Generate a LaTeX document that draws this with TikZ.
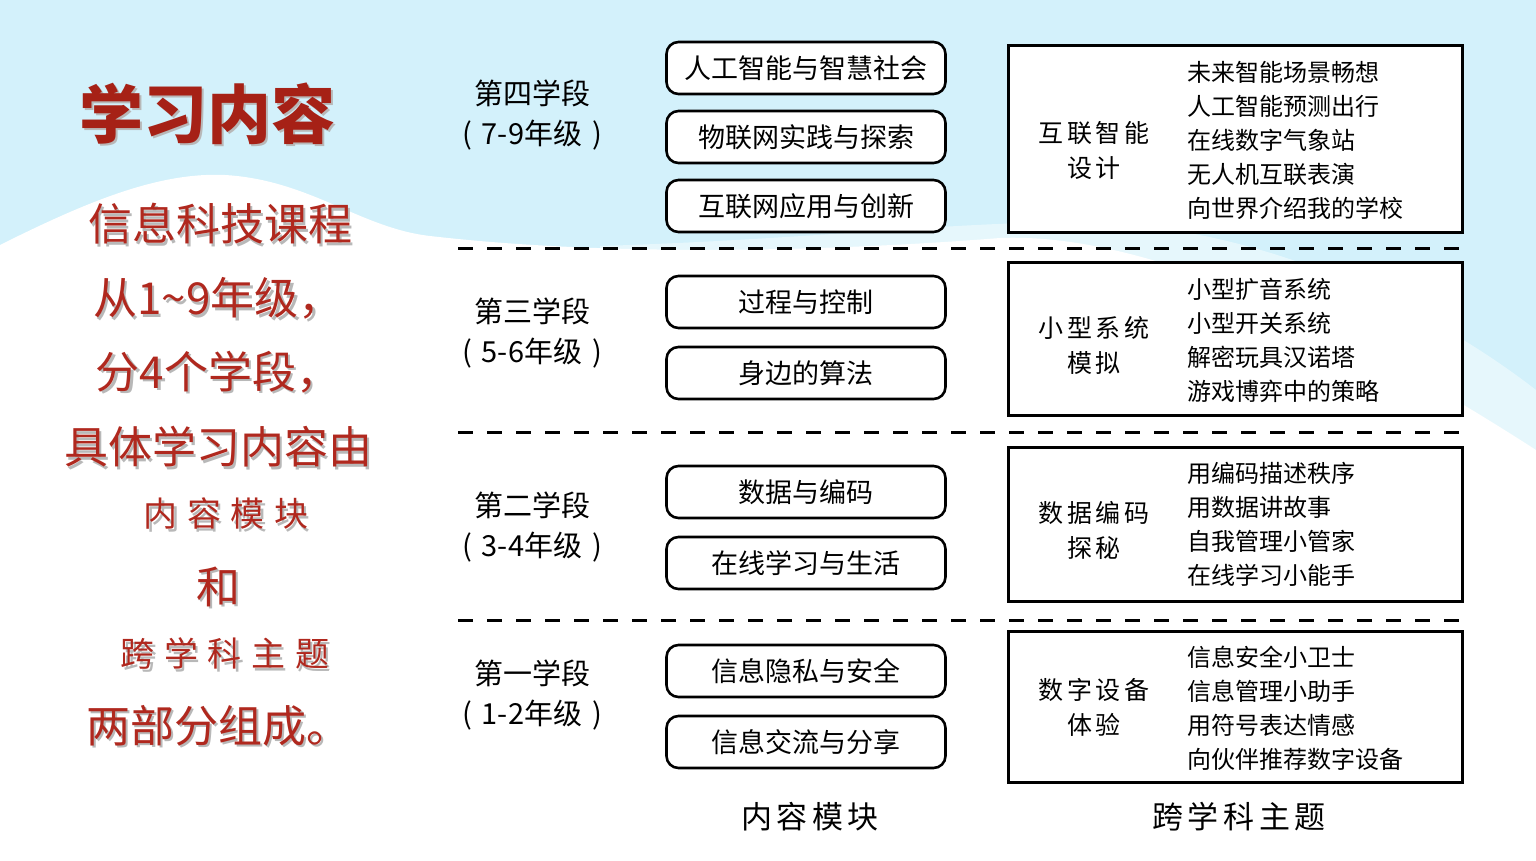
\documentclass[tikz,border=0pt]{standalone}
\usepackage{fontspec}
\usepackage{xcolor}
\setmainfont{Noto Sans CJK SC}
\newfontfamily\cjkwide[LetterSpace=15]{Noto Sans CJK SC}
\newfontfamily\cjkspaced[LetterSpace=28]{Noto Sans CJK SC}
\usetikzlibrary{positioning}

\definecolor{skyblue}{RGB}{211,241,251}
\definecolor{titlered}{RGB}{166,33,22}
\definecolor{bodyred}{RGB}{176,40,30}

% grey copy of a text, a little to the lower right
\newcommand{\shadowed}[1]{\leavevmode\rlap{\kern2.5pt\raisebox{-2.5pt}{\color{black!28}#1}}#1}
% grade range in wide brackets
\newcommand{\grades}[1]{(\hspace{10pt}#1\hspace{10pt})}

\begin{document}
\begin{tikzpicture}[x=1pt,y=-1pt,
    redline/.style={text=bodyred, font=\fontsize{44}{50}\selectfont},
    redhand/.style={text=bodyred, font=\cjkspaced\fontsize{34}{40}\selectfont},
    stagetext/.style={font=\fontsize{29}{40}\selectfont, align=center},
    modbox/.style={draw, line width=2.6pt, rounded corners=12pt, fill=white,
        minimum width=279pt, minimum height=52pt, inner sep=0pt,
        font=\fontsize{27}{30}\selectfont},
    topicbox/.style={draw, line width=3pt, fill=white, minimum width=454pt, inner sep=0pt},
    topiclabel/.style={font=\cjkwide\fontsize{25}{35}\selectfont, align=center},
    topicitems/.style={anchor=west, inner sep=0pt, align=left,
        font=\fontsize{24}{34}\selectfont},
    sepline/.style={line width=3pt, dash pattern=on 15pt off 14pt},
    footlabel/.style={font=\cjkwide\fontsize{31}{35}\selectfont}]

    % Background
    \useasboundingbox (0,0) rectangle (1536,861);
    \fill[skyblue] (0,0) rectangle (1536,861);
    \fill[white, opacity=0.45] (600,246) .. controls (800,240) and (950,222) .. (1080,222)
        .. controls (1250,224) and (1420,300) .. (1536,390) -- (1536,861) -- (600,861) -- cycle;
    \fill[white] (0,245) .. controls (90,200) and (160,172) .. (225,175)
        .. controls (310,180) and (360,228) .. (430,236)
        .. controls (620,258) and (850,250) .. (1000,238)
        .. controls (1150,232) and (1350,330) .. (1536,450)
        -- (1536,861) -- (0,861) -- cycle;

    % Left column
    \node[text=titlered, font=\bfseries\fontsize{64}{70}\selectfont] (title) at (207,115) {\shadowed{学习内容}};
    \node[redline] (l1) at (220,225) {\shadowed{信息科技课程}};
    \node[redline] (l2) at (218,300) {\shadowed{从1\textasciitilde 9年级，}};
    \node[redline] (l3) at (218,373) {\shadowed{分4个学段，}};
    \node[redline] (l4) at (218,448) {\shadowed{具体学习内容由}};
    \node[redhand] (l5) at (226,515) {\shadowed{内容模块}};
    \node[redline] (l6) at (218,588) {\shadowed{和}};
    \node[redhand] (l7) at (225,655) {\shadowed{跨学科主题}};
    \node[redline] (l8) at (218,727) {\shadowed{两部分组成。}};

    % Stages
    \node[stagetext] (s4) at (532,115) {第四学段\\\grades{7-9年级}};
    \node[stagetext] (s3) at (532,333) {第三学段\\\grades{5-6年级}};
    \node[stagetext] (s2) at (532,527) {第二学段\\\grades{3-4年级}};
    \node[stagetext] (s1) at (532,695) {第一学段\\\grades{1-2年级}};

    % Content modules
    \node[modbox] (m9) at (806,68) {人工智能与智慧社会};
    \node[modbox] (m8) at (806,137) {物联网实践与探索};
    \node[modbox] (m7) at (806,206) {互联网应用与创新};
    \node[modbox] (m6) at (806,302) {过程与控制};
    \node[modbox] (m5) at (806,373) {身边的算法};
    \node[modbox] (m4) at (806,492) {数据与编码};
    \node[modbox] (m3) at (806,563) {在线学习与生活};
    \node[modbox] (m2) at (806,671) {信息隐私与安全};
    \node[modbox] (m1) at (806,742) {信息交流与分享};

    % Separators
    \foreach \y in {248,432,620}
        \draw[sepline] (458,\y) -- (1460,\y);

    % Cross-subject topics
    \node[topicbox, minimum height=186pt] (t4) at (1235,139) {};
    \node[topiclabel] (t4l) at (1094,151) {互联智能\\设计};
    \node[topicitems] (t4i) at (1187,140) {未来智能场景畅想\\人工智能预测出行\\在线数字气象站\\无人机互联表演\\向世界介绍我的学校};

    \node[topicbox, minimum height=153pt] (t3) at (1235,338.5) {};
    \node[topiclabel] (t3l) at (1094,345) {小型系统\\模拟};
    \node[topicitems] (t3i) at (1187,340) {小型扩音系统\\小型开关系统\\解密玩具汉诺塔\\游戏博弈中的策略};

    \node[topicbox, minimum height=154pt] (t2) at (1235,524) {};
    \node[topiclabel] (t2l) at (1094,530) {数据编码\\探秘};
    \node[topicitems] (t2i) at (1187,524) {用编码描述秩序\\用数据讲故事\\自我管理小管家\\在线学习小能手};

    \node[topicbox, minimum height=151pt] (t1) at (1235,706.5) {};
    \node[topiclabel] (t1l) at (1094,707) {数字设备\\体验};
    \node[topicitems] (t1i) at (1187,708) {信息安全小卫士\\信息管理小助手\\用符号表达情感\\向伙伴推荐数字设备};

    % Column titles
    \node[footlabel] (f1) at (810,817) {内容模块};
    \node[footlabel] (f2) at (1239,817) {跨学科主题};
\end{tikzpicture}
\end{document}
